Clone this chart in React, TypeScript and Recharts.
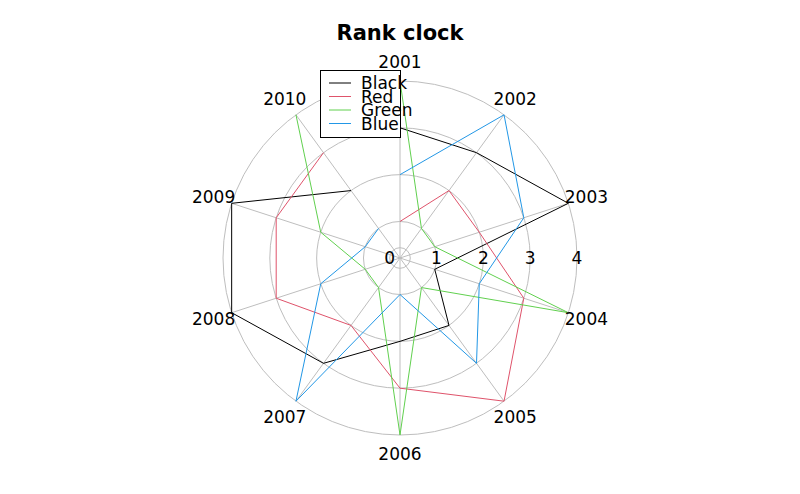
import { RadarChart, Radar, PolarGrid, PolarAngleAxis, PolarRadiusAxis, Legend, Customized } from "recharts";

const YEARS = ["2001", "2002", "2003", "2004", "2005", "2006", "2007", "2008", "2009", "2010"];
const BLACK = [3, 3, 4, 1, 2, 2, 3, 4, 4, 2];
const RED = [1, 2, 2, 3, 4, 3, 2, 3, 3, 3];
const GREEN = [4, 1, 1, 4, 1, 4, 1, 1, 2, 4];
const BLUE = [2, 4, 3, 2, 3, 1, 4, 2, 1, 1];
const RADIAL_TICKS = [0, 1, 2, 3, 4];

const SERIES = [
  { key: "Black", color: "#000000" },
  { key: "Red", color: "#DF536B" },
  { key: "Green", color: "#61D04F" },
  { key: "Blue", color: "#2297E6" },
];

const data = YEARS.map((year, i) => ({
  year,
  Black: BLACK[i],
  Red: RED[i],
  Green: GREEN[i],
  Blue: BLUE[i],
}));

const W = 800;
const H = 494;
const CX = 400;
const CY = 258;
const OUTER = 177;
const RMIN = 0.22;
const RMAX = 4;
const FONT = "DejaVu Sans, sans-serif";

// same linear map as the radius axis; 0 lands just past the centre
const radial = (v: number) => ((v - RMIN) / (RMAX - RMIN)) * OUTER;
const gridRadii = RADIAL_TICKS.map((v) => Math.abs(radial(v)));

function RadiusLabels() {
  return (
    <g>
      {RADIAL_TICKS.map((v) => (
        <text
          key={v}
          x={CX + radial(v)}
          y={CY}
          textAnchor="middle"
          dominantBaseline="central"
          fontSize={17}
          fill="#000"
          fontFamily={FONT}
        >
          {v}
        </text>
      ))}
    </g>
  );
}

function AngleTick(props: any) {
  const { x, y, payload } = props;
  return (
    <text x={x} y={y} textAnchor="middle" dominantBaseline="central" fontSize={17} fill="#000" fontFamily={FONT}>
      {payload.value}
    </text>
  );
}

// rank clock lines are left open between the last and first year
function OpenLine(props: any) {
  const { points, stroke } = props;
  if (!points || !points.length) return null;
  const d = points.map((p: any, i: number) => `${i ? "L" : "M"}${p.x},${p.y}`).join(" ");
  return <path d={d} fill="none" stroke={stroke} strokeWidth={1} />;
}

function LegendBox() {
  return (
    <svg width={82} height={68} style={{ overflow: "visible", display: "block" }}>
      <rect x={0.5} y={0.5} width={80} height={67} fill="#fff" stroke="#000" strokeWidth={1} />
      {SERIES.map((s, i) => (
        <g key={s.key}>
          <line x1={9} x2={31} y1={13 + i * 13.5} y2={13 + i * 13.5} stroke={s.color} strokeWidth={1} />
          <text x={41} y={13 + i * 13.5} dominantBaseline="central" fontSize={17} fontFamily={FONT} fill="#000">
            {s.key}
          </text>
        </g>
      ))}
    </svg>
  );
}

export default function App() {
  return (
    <div style={{ position: "relative", width: W, height: H, background: "#fff" }}>
      <style>{`body{margin:0}`}</style>
      <div
        style={{
          position: "absolute",
          top: 20,
          left: 0,
          width: W,
          textAlign: "center",
          fontFamily: FONT,
          fontWeight: "bold",
          fontSize: 21,
          lineHeight: "26px",
          zIndex: 2,
        }}
      >
        Rank clock
      </div>
      <RadarChart
        width={W}
        height={H}
        data={data}
        cx={CX}
        cy={CY}
        outerRadius={OUTER}
        startAngle={90}
        endAngle={-270}
        margin={{ top: 0, right: 0, bottom: 0, left: 0 }}
      >
        <PolarGrid gridType="circle" polarRadius={gridRadii} stroke="#BEBEBE" strokeWidth={1} />
        <PolarAngleAxis dataKey="year" tick={<AngleTick />} tickLine={false} axisLine={false} tickSize={19} />
        <PolarRadiusAxis
          angle={0}
          type="number"
          domain={[RMIN, RMAX]}
          allowDataOverflow
          tickCount={2}
          allowDecimals
          tick={false}
          tickLine={false}
          axisLine={false}
        />
        {SERIES.map((s) => (
          <Radar
            key={s.key}
            name={s.key}
            dataKey={s.key}
            stroke={s.color}
            fill="none"
            dot={false}
            shape={<OpenLine stroke={s.color} />}
            isAnimationActive={false}
          />
        ))}
        <Customized component={RadiusLabels} />
        <Legend content={<LegendBox />} wrapperStyle={{ position: "absolute", left: 320, top: 70, width: 82, height: 68 }} />
      </RadarChart>
    </div>
  );
}
